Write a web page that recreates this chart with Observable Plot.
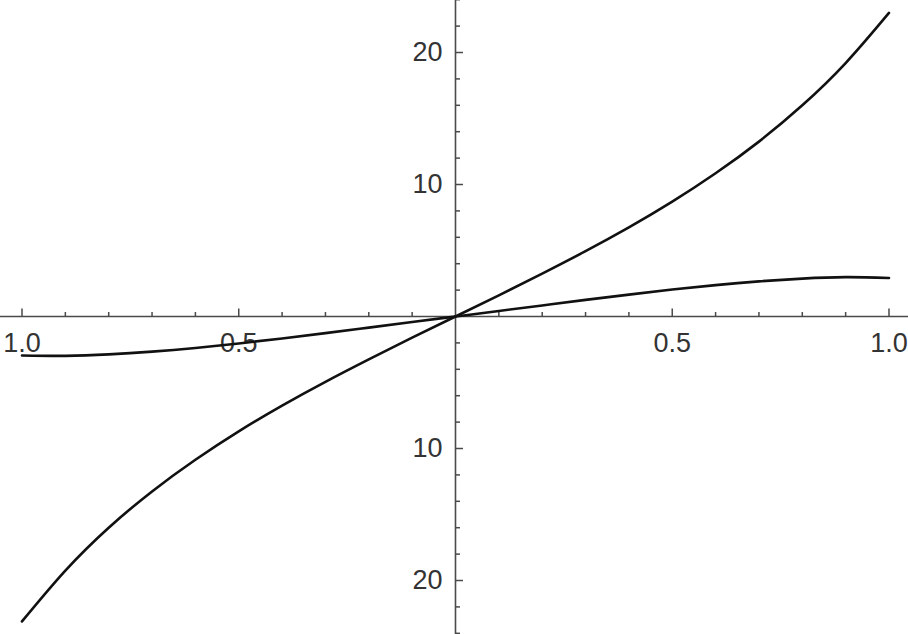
<!DOCTYPE html>
<html>
<head>
<meta charset="utf-8">
<script src="https://cdn.jsdelivr.net/npm/d3@7"></script>
<script src="https://cdn.jsdelivr.net/npm/@observablehq/plot@0.6"></script>
<style>
  html, body { margin: 0; padding: 0; background: #fff; }
  #chart svg { display: block; }
</style>
</head>
<body>
<div id="chart"></div>
<script>
// Sample x positions
const xs = [-1.0, -0.9, -0.8, -0.7, -0.6, -0.5, -0.4, -0.3, -0.2, -0.1, 0,
            0.1, 0.2, 0.3, 0.4, 0.5, 0.6, 0.7, 0.8, 0.9, 1.0];
// Steep curve
const steepValues = [-23.1, -19.25, -16.0, -13.25, -10.85, -8.7, -6.75, -4.95, -3.25, -1.6, 0,
                     1.6, 3.25, 4.95, 6.75, 8.7, 10.85, 13.25, 16.0, 19.2, 23.0];
// Flat curve
const flatValues = [-2.95, -2.98, -2.87, -2.66, -2.38, -2.04, -1.66, -1.26, -0.84, -0.42, 0,
                    0.42, 0.84, 1.26, 1.66, 2.04, 2.38, 2.66, 2.87, 2.98, 2.92];

// Axis ticks and labels
const xMinorTicks = [-0.9, -0.8, -0.7, -0.6, -0.4, -0.3, -0.2, -0.1, 0.1, 0.2, 0.3, 0.4, 0.6, 0.7, 0.8, 0.9];
const xMajorTicks = [-1.0, -0.5, 0.5, 1.0];
const xTickLabels = ["1.0", "0.5", "0.5", "1.0"];
const yMinorTicks = [-24, -22, -18, -16, -14, -12, -8, -6, -4, -2, 2, 4, 6, 8, 12, 14, 16, 18, 22, 24];
const yMajorTicks = [-20, -10, 10, 20];
const yTickLabels = ["20", "10", "10", "20"];

const W = 908, H = 634;
const xDomain = [-1.0496, 1.0450];
const yDomain = [-24.09, 23.94];
const pxPerX = W / (xDomain[1] - xDomain[0]);
const pxPerY = H / (yDomain[1] - yDomain[0]);

const steep = xs.map((x, i) => ({x, y: steepValues[i]}));
const flat = xs.map((x, i) => ({x, y: flatValues[i]}));

const axisColor = "#4a4a4a";
const xTick = (len) => (d) => ({x1: d, x2: d, y1: 0, y2: len / pxPerY});
const yTick = (len) => (d) => ({x1: 0, x2: len / pxPerX, y1: d, y2: d});

const chart = Plot.plot({
  width: W,
  height: H,
  margin: 0,
  style: {fontFamily: "'Liberation Sans', Arial, sans-serif", background: "#fff"},
  x: {domain: xDomain, axis: null},
  y: {domain: yDomain, axis: null},
  marks: [
    Plot.ruleY([0], {stroke: axisColor, strokeWidth: 1.6}),
    Plot.ruleX([0], {stroke: axisColor, strokeWidth: 1.6}),
    Plot.link(xMinorTicks.map(xTick(4.5)), {x1: "x1", x2: "x2", y1: "y1", y2: "y2", stroke: axisColor, strokeWidth: 1.5}),
    Plot.link(xMajorTicks.map(xTick(8)), {x1: "x1", x2: "x2", y1: "y1", y2: "y2", stroke: axisColor, strokeWidth: 1.5}),
    Plot.link(yMinorTicks.map(yTick(4.5)), {x1: "x1", x2: "x2", y1: "y1", y2: "y2", stroke: axisColor, strokeWidth: 1.5}),
    Plot.link(yMajorTicks.map(yTick(7.5)), {x1: "x1", x2: "x2", y1: "y1", y2: "y2", stroke: axisColor, strokeWidth: 1.5}),
    Plot.text(xMajorTicks, {x: d => d, y: 0, dy: 27, text: (d, i) => xTickLabels[i], fontSize: 27, fill: "#333", textAnchor: "middle"}),
    Plot.text(yMajorTicks, {x: 0, y: d => d, dx: -13, text: (d, i) => yTickLabels[i], fontSize: 27, fill: "#333", textAnchor: "end"}),
    Plot.line(steep, {x: "x", y: "y", curve: "natural", stroke: "#111", strokeWidth: 2.6}),
    Plot.line(flat, {x: "x", y: "y", curve: "natural", stroke: "#111", strokeWidth: 2.6})
  ]
});
document.getElementById("chart").appendChild(chart);
</script>
</body>
</html>
